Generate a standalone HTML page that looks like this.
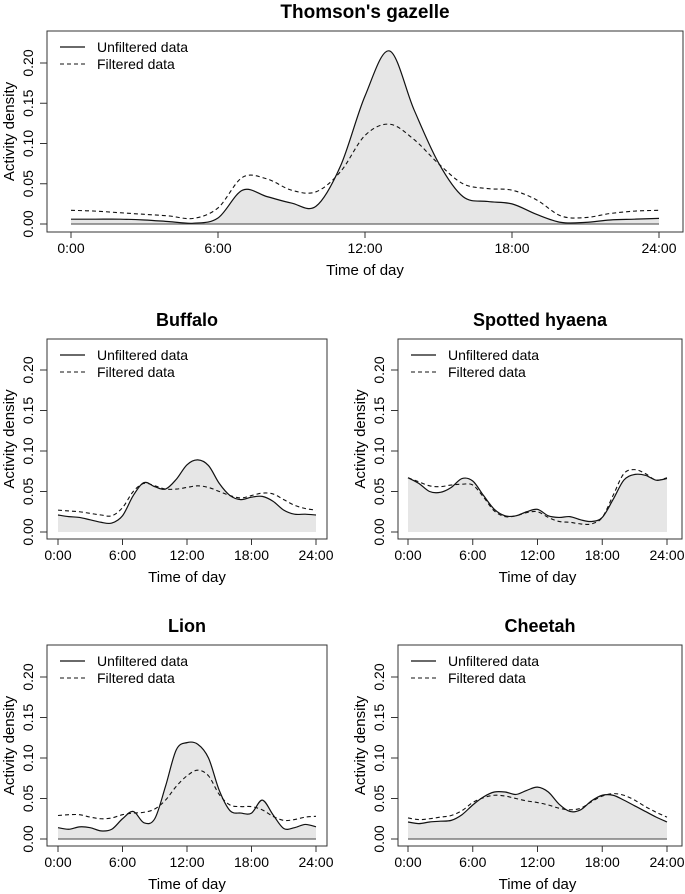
<!DOCTYPE html>
<html><head><meta charset="utf-8"><style>
body{margin:0;background:#fff}
svg{display:block;font-family:"Liberation Sans",Arial,sans-serif}
</style></head><body>
<svg id="chart" width="685" height="894" viewBox="0 0 685 894" xmlns="http://www.w3.org/2000/svg"></svg>
<script>
const hours = [0,1,2,3,4,5,6,7,8,9,10,11,12,13,14,15,16,17,18,19,20,21,22,23,24];
const xTicks = [0,6,12,18,24];
const xTickLabels = ["0:00","6:00","12:00","18:00","24:00"];
const yTicks = [0,0.05,0.10,0.15,0.20];
const yTickLabels = ["0.00","0.05","0.10","0.15","0.20"];
const speciesNames = ["Thomson's gazelle","Buffalo","Spotted hyaena","Lion","Cheetah"];
const gazelleUnfiltered = [0.006,0.006,0.006,0.005,0.003,0.001,0.0075,0.042,0.034,0.026,0.022,0.072,0.159,0.215,0.142,0.076,0.034,0.028,0.025,0.012,0.002,0.002,0.005,0.006,0.007];
const gazelleFiltered = [0.017,0.016,0.014,0.012,0.01,0.007,0.02,0.058,0.056,0.042,0.04,0.065,0.11,0.124,0.105,0.075,0.05,0.044,0.042,0.03,0.01,0.008,0.013,0.016,0.017];
const buffaloUnfiltered = [0.021,0.019,0.018,0.015,0.012,0.011,0.02,0.045,0.061,0.056,0.053,0.065,0.083,0.089,0.082,0.06,0.045,0.04,0.043,0.044,0.038,0.027,0.022,0.022,0.021];
const buffaloFiltered = [0.027,0.026,0.025,0.023,0.021,0.02,0.03,0.05,0.06,0.057,0.053,0.053,0.055,0.057,0.055,0.05,0.045,0.042,0.045,0.048,0.047,0.04,0.033,0.029,0.027];
const hyaenaUnfiltered = [0.067,0.06,0.05,0.049,0.055,0.066,0.063,0.045,0.028,0.02,0.02,0.025,0.028,0.02,0.018,0.019,0.015,0.013,0.018,0.04,0.064,0.071,0.07,0.064,0.066];
const hyaenaFiltered = [0.067,0.062,0.057,0.056,0.058,0.059,0.058,0.043,0.026,0.019,0.02,0.024,0.025,0.018,0.013,0.012,0.01,0.01,0.018,0.045,0.072,0.077,0.072,0.064,0.067];
const lionUnfiltered = [0.014,0.012,0.015,0.014,0.01,0.012,0.025,0.034,0.02,0.025,0.065,0.11,0.119,0.117,0.1,0.06,0.035,0.032,0.032,0.048,0.03,0.013,0.014,0.018,0.015];
const lionFiltered = [0.029,0.03,0.03,0.027,0.025,0.026,0.03,0.032,0.033,0.037,0.048,0.065,0.078,0.085,0.078,0.055,0.042,0.04,0.04,0.036,0.028,0.023,0.024,0.027,0.028];
const cheetahUnfiltered = [0.021,0.019,0.021,0.022,0.023,0.03,0.042,0.052,0.058,0.058,0.055,0.06,0.064,0.058,0.043,0.034,0.036,0.047,0.054,0.054,0.048,0.041,0.034,0.027,0.021];
const cheetahFiltered = [0.026,0.024,0.025,0.027,0.029,0.035,0.045,0.051,0.054,0.053,0.05,0.047,0.045,0.042,0.038,0.036,0.038,0.046,0.053,0.056,0.054,0.048,0.04,0.033,0.027];

const NS = "http://www.w3.org/2000/svg";
const svg = document.getElementById('chart');
function mk(tag, attrs, parent){ const e=document.createElementNS(NS,tag); for(const k in attrs) e.setAttribute(k,attrs[k]); (parent||svg).appendChild(e); return e; }

const panels = [
 {slug:'thomsons-gazelle', name:speciesNames[0], u:gazelleUnfiltered, f:gazelleFiltered, bx0:47, bx1:683, by0:31, by1:232, x0:71, x1:659, y0:224, y2:63, base:true},
 {slug:'buffalo', name:speciesNames[1], u:buffaloUnfiltered, f:buffaloFiltered, bx0:47, bx1:327, by0:339, by1:539, x0:58, x1:316, y0:532, y2:370, base:false},
 {slug:'spotted-hyaena', name:speciesNames[2], u:hyaenaUnfiltered, f:hyaenaFiltered, bx0:398, bx1:682, by0:339, by1:539, x0:408, x1:667, y0:532, y2:370, base:false},
 {slug:'lion', name:speciesNames[3], u:lionUnfiltered, f:lionFiltered, bx0:47, bx1:327, by0:645, by1:846, x0:58, x1:316, y0:839, y2:677, base:true},
 {slug:'cheetah', name:speciesNames[4], u:cheetahUnfiltered, f:cheetahFiltered, bx0:398, bx1:682, by0:645, by1:846, x0:408, x1:667, y0:839, y2:677, base:true}
];

function pathFrom(pts){
  let d = `M${pts[0][0]},${pts[0][1]}`;
  for(let i=0;i<pts.length-1;i++){
    const p0=pts[Math.max(0,i-1)], p1=pts[i], p2=pts[i+1], p3=pts[Math.min(pts.length-1,i+2)];
    const c1=[p1[0]+(p2[0]-p0[0])/6, p1[1]+(p2[1]-p0[1])/6];
    const c2=[p2[0]-(p3[0]-p1[0])/6, p2[1]-(p3[1]-p1[1])/6];
    d += ` C${c1[0].toFixed(2)},${c1[1].toFixed(2)} ${c2[0].toFixed(2)},${c2[1].toFixed(2)} ${p2[0].toFixed(2)},${p2[1].toFixed(2)}`;
  }
  return d;
}

panels.forEach((p,pi)=>{
  const g = mk('g',{});
  
  
  const xs = h => p.x0 + (h/24)*(p.x1-p.x0);
  const ys = v => p.y0 - (v/0.2)*(p.y0-p.y2);
  const cx = (p.bx0+p.bx1)/2;
  const big = pi===0;
  const t = mk('text',{x:cx, y:p.by0-13, 'text-anchor':'middle', 'font-size':big?19:18, 'font-weight':'bold', fill:'#000'}, g);
  t.textContent = p.name;
  
  

  const uPts = hours.map((h,i)=>[xs(h), ys(p.u[i])]);
  const fPts = hours.map((h,i)=>[xs(h), ys(p.f[i])]);
  const ud = pathFrom(uPts);
  const area = mk('path',{d: ud + ` L${xs(24)},${ys(0)} L${xs(0)},${ys(0)} Z`, fill:'#e6e6e6', stroke:'none'}, g);
  
  
  if(p.base){
    const bl = mk('line',{x1:xs(0), x2:xs(24), y1:ys(0), y2:ys(0), stroke:'#666', 'stroke-width':1.2}, g);
    
    
  }
  const fl = mk('path',{d:pathFrom(fPts), fill:'none', stroke:'#111', 'stroke-width':1.1, 'stroke-dasharray':'4,3'}, g);
  
  
  const ul = mk('path',{d:ud, fill:'none', stroke:'#111', 'stroke-width':1.2}, g);
  
  

  const box = mk('rect',{x:p.bx0, y:p.by0, width:p.bx1-p.bx0, height:p.by1-p.by0, fill:'none', stroke:'#333', 'stroke-width':1}, g);
  
  

  const xa = mk('g',{}, g);
  
  
  mk('line',{x1:xs(xTicks[0]), x2:xs(xTicks[xTicks.length-1]), y1:p.by1, y2:p.by1, stroke:'#333'}, xa);
  xTicks.forEach((h,i)=>{
    mk('line',{x1:xs(h), x2:xs(h), y1:p.by1, y2:p.by1+6, stroke:'#333'}, xa);
    const tl = mk('text',{x:xs(h), y:p.by1+21, 'text-anchor':'middle', 'font-size':14, fill:'#000'}, xa);
    tl.textContent = xTickLabels[i];
    
    
  });
  const xt = mk('text',{x:(xs(0)+xs(24))/2, y:p.by1+43, 'text-anchor':'middle', 'font-size':15, fill:'#000'}, g);
  xt.textContent = 'Time of day';
  
  

  const ya = mk('g',{}, g);
  
  
  mk('line',{x1:p.bx0, x2:p.bx0, y1:ys(yTicks[0]), y2:ys(yTicks[yTicks.length-1]), stroke:'#333'}, ya);
  yTicks.forEach((v,i)=>{
    mk('line',{x1:p.bx0-7, x2:p.bx0, y1:ys(v), y2:ys(v), stroke:'#333'}, ya);
    const tl = mk('text',{x:0, y:0, 'text-anchor':'middle', 'font-size':14, fill:'#000', transform:`translate(${p.bx0-14},${ys(v)}) rotate(-90)`}, ya);
    tl.textContent = yTickLabels[i];
    
    
  });
  const yt = mk('text',{x:0, y:0, 'text-anchor':'middle', 'font-size':15, fill:'#000', transform:`translate(${p.bx0-33},${(p.by0+p.by1)/2}) rotate(-90)`}, g);
  yt.textContent = 'Activity density';
  
  

  const lg = mk('g',{}, g);
  
  
  const lx = p.bx0+13, ly = p.by0+16;
  mk('line',{x1:lx, x2:lx+25, y1:ly, y2:ly, stroke:'#111', 'stroke-width':1.2}, lg);
  const l1 = mk('text',{x:lx+37, y:ly+5, 'font-size':14, fill:'#000'}, lg);
  l1.textContent = 'Unfiltered data';
  
  
  mk('line',{x1:lx, x2:lx+25, y1:ly+17, y2:ly+17, stroke:'#111', 'stroke-width':1.1, 'stroke-dasharray':'4,3'}, lg);
  const l2 = mk('text',{x:lx+37, y:ly+22, 'font-size':14, fill:'#000'}, lg);
  l2.textContent = 'Filtered data';
  
  
});
</script>
</body></html>
